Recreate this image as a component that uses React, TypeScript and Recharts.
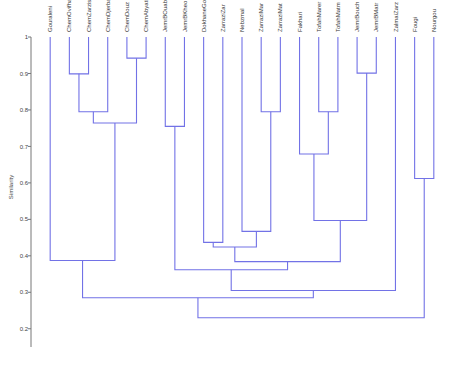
import { ComposedChart, Line, XAxis, YAxis, Label } from "recharts";

const leaves = [
  "Gouraleni",
  "ChemOvifha",
  "ChemZarzis",
  "ChemDjerba",
  "ChemDouz",
  "ChemAbyati",
  "JemrBOuab",
  "JemrBKheo",
  "DokhaneGo",
  "ZarraziZar",
  "Nebzmal",
  "ZarraziMar",
  "ZarraziMat",
  "Fakhari",
  "TofahMarer",
  "TofahMatm",
  "JemrBouch",
  "JemrBMatr",
  "ZalmaiZarz",
  "Fougi",
  "Nourgou",
];

const yTicks = [0.2, 0.3, 0.4, 0.5, 0.6, 0.7, 0.8, 0.9, 1];

// [left, right, similarity]; ids >= leaves.length point to earlier merges
const merges: [number, number, number][] = [
  [4, 5, 0.942], // 21
  [1, 2, 0.899], // 22
  [16, 17, 0.901], // 23
  [11, 12, 0.795], // 24
  [14, 15, 0.795], // 25
  [22, 3, 0.795], // 26
  [26, 21, 0.764], // 27
  [6, 7, 0.755], // 28
  [13, 25, 0.679], // 29
  [19, 20, 0.612], // 30
  [29, 23, 0.497], // 31
  [10, 24, 0.467], // 32
  [8, 9, 0.437], // 33
  [33, 32, 0.424], // 34
  [0, 27, 0.387], // 35
  [34, 31, 0.384], // 36
  [28, 36, 0.362], // 37
  [37, 18, 0.305], // 38
  [35, 38, 0.285], // 39
  [39, 30, 0.23], // 40
];

function buildLinks() {
  const pos: number[] = leaves.map((_, i) => i);
  const h: number[] = leaves.map(() => 1);
  return merges.map(([a, b, s], k) => {
    const id = leaves.length + k;
    pos[id] = (pos[a] + pos[b]) / 2;
    h[id] = s;
    return [
      { x: pos[a], y: h[a] },
      { x: pos[a], y: s },
      { x: pos[b], y: s },
      { x: pos[b], y: h[b] },
    ];
  });
}

const links = buildLinks();
const leafTicks = leaves.map((_, i) => i);

const LeafTick = (props: any) => {
  const { x, payload } = props;
  return (
    <text
      x={x}
      y={32}
      dy="0.35em"
      transform={`rotate(-90 ${x} 32)`}
      fontSize={6}
      fill="#333"
    >
      {leaves[payload.value]}
    </text>
  );
};

export default function App() {
  return (
    <div style={{ position: "absolute", left: 0, top: 0 }}>
      <ComposedChart
        width={474}
        height={371}
        margin={{ top: 0, right: 21, bottom: 24, left: 0 }}
        style={{ fontFamily: "Liberation Sans, Arial, sans-serif" }}
      >
        <XAxis
          xAxisId="x"
          type="number"
          dataKey="x"
          orientation="top"
          domain={[-1, 21]}
          ticks={leafTicks}
          interval={0}
          height={37}
          axisLine={false}
          tickLine={false}
          tick={<LeafTick />}
        />
        <YAxis
          yAxisId="y"
          type="number"
          dataKey="y"
          domain={[0.15, 1]}
          ticks={yTicks}
          interval={0}
          width={31}
          allowDataOverflow
          tickSize={3}
          tickMargin={0}
          tickFormatter={(v: number) => (v === 1 ? "1" : v.toFixed(1))}
          tick={{ fontSize: 6, fill: "#444" }}
          stroke="#777"
        >
          <Label
            content={(p: any) => {
              const vb = p.viewBox;
              const cx = 13;
              const cy = vb.y + vb.height / 2 - 5;
              return (
                <text
                  x={cx}
                  y={cy}
                  textAnchor="middle"
                  transform={`rotate(-90 ${cx} ${cy})`}
                  fontSize={6}
                  fill="#444"
                >
                  Similarity
                </text>
              );
            }}
          />
        </YAxis>
        {links.map((pts, i) => (
          <Line
            key={i}
            xAxisId="x"
            yAxisId="y"
            data={pts}
            dataKey="y"
            type="linear"
            stroke="#7272e6"
            strokeWidth={1.1}
            dot={false}
            activeDot={false}
            isAnimationActive={false}
          />
        ))}
      </ComposedChart>
    </div>
  );
}
